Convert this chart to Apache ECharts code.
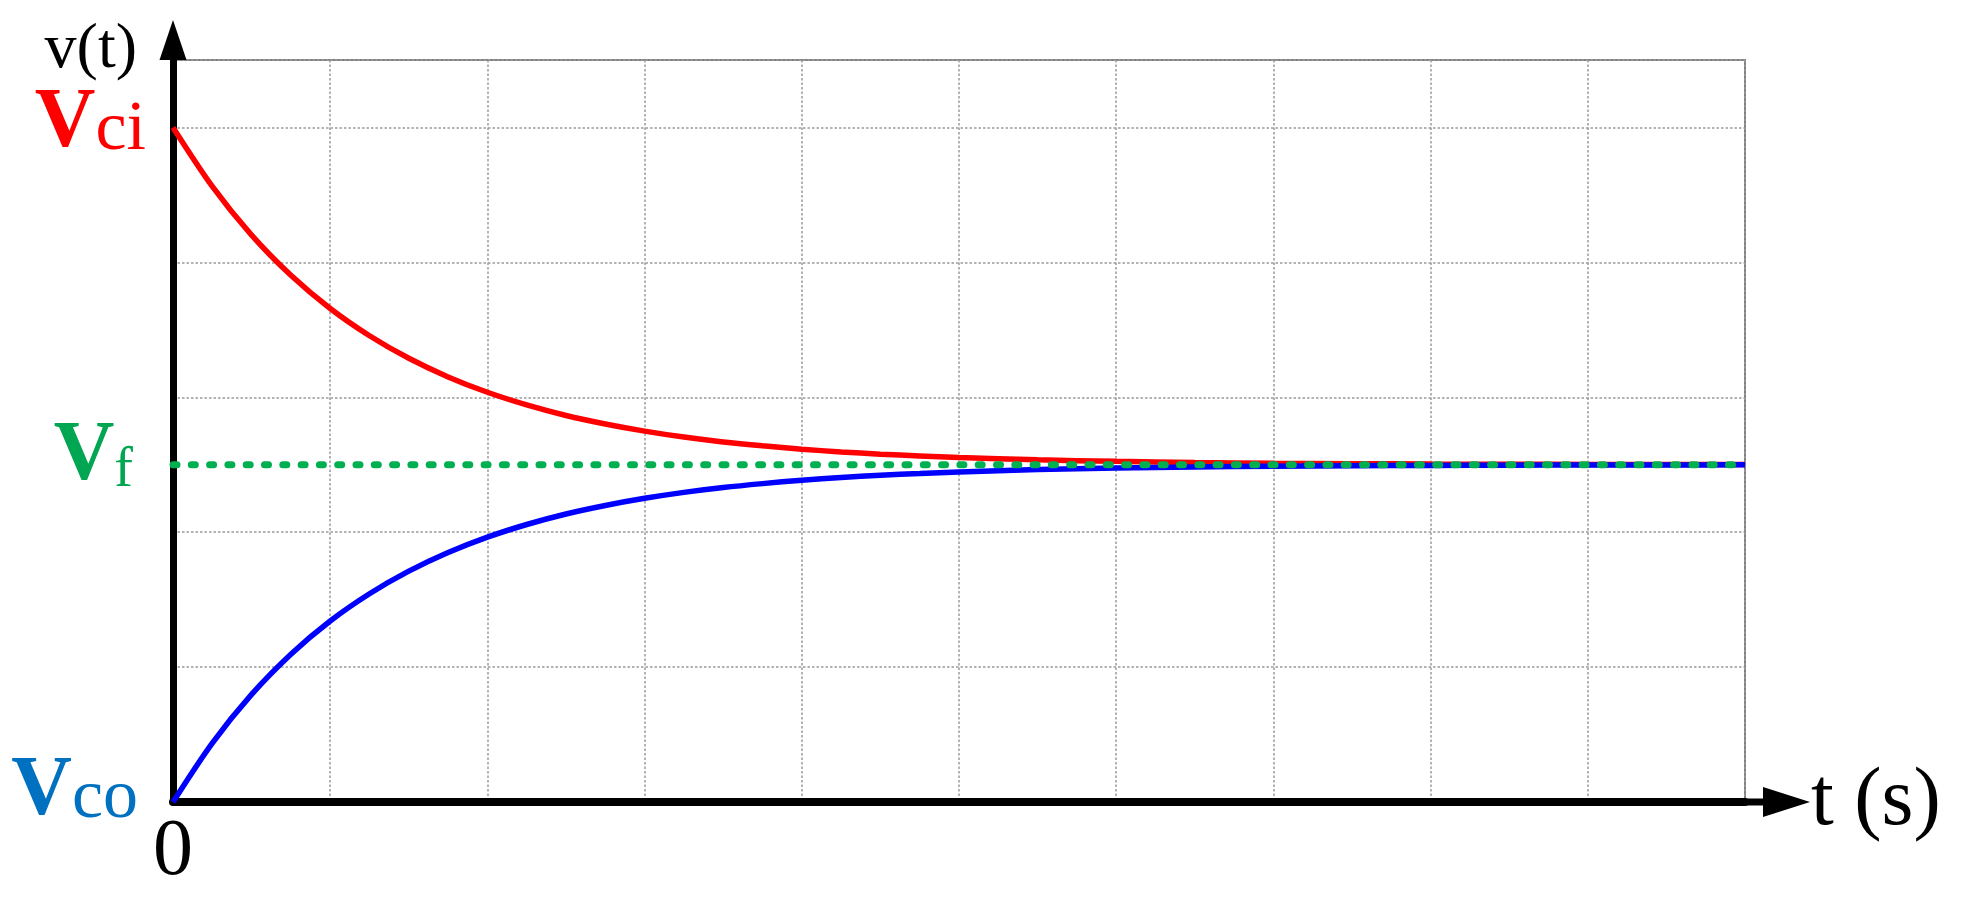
<!DOCTYPE html>
<html>
<head>
<meta charset="utf-8">
<script src="https://cdn.jsdelivr.net/npm/echarts@6/dist/echarts.min.js"></script>
<style>
  html, body { margin: 0; padding: 0; background: #fff; }
  #chart { width: 1971px; height: 899px; }
</style>
</head>
<body>
<div id="chart"></div>
<script>
// time samples (s)
const tValues = [0, 0.25, 0.5, 0.75, 1, 1.25, 1.5, 1.75, 2, 2.25, 2.5, 2.75, 3, 3.25, 3.5, 3.75, 4, 4.25, 4.5, 4.75, 5,
    5.5, 6, 6.5, 7, 7.5, 8, 8.5, 9, 9.5, 10];
// red curve, starts at Vci and decays to Vf
const vFromHigh = [5.000, 4.563, 4.202, 3.904, 3.658, 3.456, 3.289, 3.151, 3.037, 2.943, 2.865, 2.802, 2.749, 2.705, 2.669, 2.640, 2.615, 2.595, 2.578, 2.565, 2.553,
    2.536, 2.525, 2.517, 2.511, 2.508, 2.505, 2.504, 2.502, 2.502, 2.501];
// blue curve, starts at Vco and rises to Vf
const vFromLow = [0.000, 0.437, 0.798, 1.096, 1.342, 1.544, 1.711, 1.849, 1.963, 2.057, 2.135, 2.198, 2.251, 2.295, 2.331, 2.360, 2.385, 2.405, 2.422, 2.435, 2.447,
    2.464, 2.475, 2.483, 2.489, 2.492, 2.495, 2.496, 2.498, 2.498, 2.499];
const vFinal = 2.5;
const tRange = [0, 10];

// y tick labels: value, main letter, subscript
const levelTicks = [0, 2.5, 5];
const levelMain = ['V', 'V', 'V'];
const levelSub = ['co', 'f', 'ci'];
const levelKeys = ['b', 'g', 'r'];
const xTicks = [0];
const xTickLabels = ['0'];

const SERIF = '"Liberation Serif", "Times New Roman", serif';

const chart = echarts.init(document.getElementById('chart'));

const option = {
    backgroundColor: '#fff',
    animation: false,
    grid: {
        left: 173,
        right: 226,
        top: 60,
        bottom: 97,
        show: true,
        borderColor: '#808080',
        borderWidth: 2
    },
    xAxis: {
        type: 'value',
        min: tRange[0],
        max: tRange[1],
        interval: 1,
        name: 't (s)',
        nameLocation: 'end',
        nameGap: 66,
        nameTextStyle: { fontFamily: SERIF, fontSize: 82, color: '#000' },
        axisLine: {
            show: true,
            onZero: false,
            lineStyle: { color: '#000', width: 8 },
            symbol: ['none', 'path://M15,0 L30,47 L18.5,47 L18.5,65 L11.5,65 L11.5,47 L0,47 Z'],
            symbolSize: [30, 65],
            symbolOffset: [0, 32.5]
        },
        axisTick: { show: false },
        axisLabel: {
            customValues: xTicks,
            margin: 11,
            fontFamily: SERIF,
            fontSize: 80,
            color: '#000',
            formatter: function (v) {
                const i = xTicks.indexOf(v);
                return i >= 0 ? xTickLabels[i] : '';
            }
        },
        splitLine: {
            show: true,
            lineStyle: { color: '#9a9a9a', width: 1.5, type: [2.5, 2] }
        }
    },
    yAxis: {
        type: 'value',
        min: 0,
        max: 5.5,
        interval: 1,
        name: 'v(t)',
        nameLocation: 'end',
        nameGap: 7,
        nameTextStyle: {
            fontFamily: SERIF, fontSize: 64, color: '#000',
            align: 'right', verticalAlign: 'middle', padding: [0, 36, 0, 0]
        },
        axisLine: {
            show: true,
            onZero: false,
            lineStyle: { color: '#000', width: 7 },
            symbol: ['none', 'triangle'],
            symbolSize: [27, 40],
            symbolOffset: [0, 20]
        },
        axisTick: { show: false },
        axisLabel: {
            customValues: levelTicks,
            margin: 27,
            formatter: function (v) {
                const i = levelTicks.indexOf(v);
                if (i < 0) return '';
                const k = levelKeys[i];
                return '{v' + k + '|' + levelMain[i] + '}{s' + k + '|' + levelSub[i] + '}';
            },
            rich: {
                vr: { fontFamily: SERIF, fontSize: 84, fontWeight: 'bold', color: '#FF0000', verticalAlign: 'bottom', padding: [0, 0, 7, 0] },
                sr: { fontFamily: SERIF, fontSize: 70, color: '#FF0000', verticalAlign: 'bottom', padding: [0, 0, 7, 0] },
                vg: { fontFamily: SERIF, fontSize: 84, fontWeight: 'bold', color: '#00A651', verticalAlign: 'bottom', padding: [0, 0, 14, 0] },
                sg: { fontFamily: SERIF, fontSize: 56, color: '#00A651', verticalAlign: 'bottom', padding: [0, 13, 14, 0] },
                vb: { fontFamily: SERIF, fontSize: 84, fontWeight: 'bold', color: '#0070C0', verticalAlign: 'bottom', padding: [0, 0, 20, 0] },
                sb: { fontFamily: SERIF, fontSize: 70, color: '#0070C0', verticalAlign: 'bottom', padding: [0, 8, 20, 0] }
            }
        },
        splitLine: {
            show: true,
            lineStyle: { color: '#9a9a9a', width: 1.5, type: [2.5, 2] }
        }
    },
    series: [
        {
            name: 'Vci',
            type: 'line',
            data: tValues.map((t, i) => [t, vFromHigh[i]]),
            smooth: 0.3,
            showSymbol: false,
            lineStyle: { color: '#FF0000', width: 5.5 },
            z: 3
        },
        {
            name: 'Vco',
            type: 'line',
            data: tValues.map((t, i) => [t, vFromLow[i]]),
            smooth: 0.3,
            showSymbol: false,
            lineStyle: { color: '#0000FF', width: 5.5 },
            z: 4
        },
        {
            name: 'Vf',
            type: 'line',
            data: tRange.map(t => [t, vFinal]),
            showSymbol: false,
            lineStyle: { color: '#00B050', width: 7, type: [4, 14.3], cap: 'round' },
            z: 5
        }
    ]
};

chart.setOption(option);
</script>
</body>
</html>
